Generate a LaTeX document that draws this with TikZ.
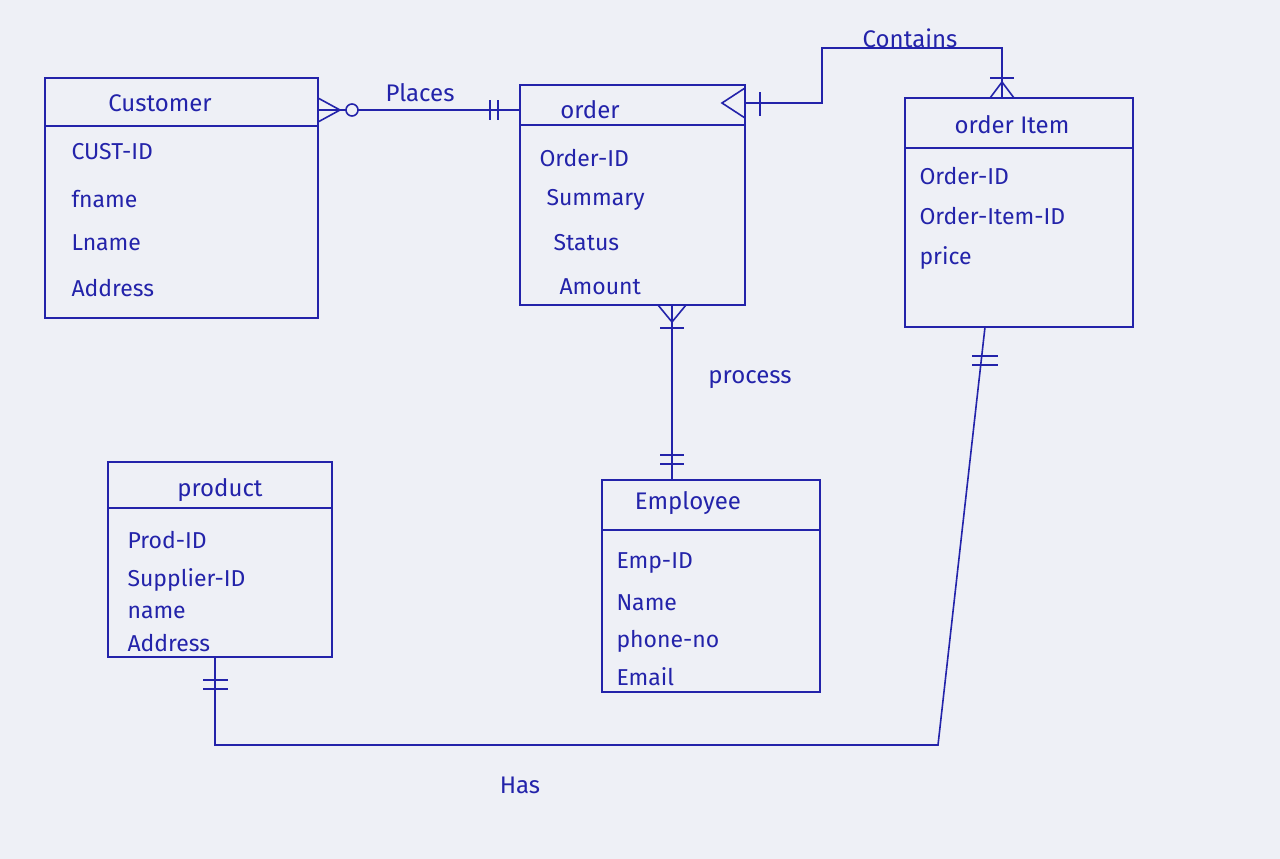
\documentclass[tikz,border=0pt]{standalone}
\usepackage{fontspec}
\setmainfont{Fira Sans}
\definecolor{ink}{RGB}{35,35,170}
\definecolor{paper}{RGB}{238,240,246}
\begin{document}
\begin{tikzpicture}[x=1pt,y=-1pt,
  ink line/.style={draw=ink,line width=1.6pt},
  ent/.style={ink line},
  lbl/.style={text=ink,font=\fontsize{24}{26}\selectfont},
  att/.style={text=ink,anchor=west,font=\fontsize{23}{25}\selectfont},
  ttl/.style={text=ink,font=\fontsize{24}{26}\selectfont}]
\fill[paper] (0,0) rectangle (1280,859);
\useasboundingbox (0,0) rectangle (1280,859);
% Customer
\draw[ent] (45,78) rectangle (318,318); \draw[ent] (45,126) -- (318,126);
\node[ttl] (cust) at (160,103) {Customer};
\node[att] at (68,152) {CUST-ID};
\node[att] at (68,199) {fname};
\node[att] at (68,243) {Lname};
\node[att] at (68,288) {Address};
\coordinate (custR) at (318,110);
% Order
\draw[ent] (520,85) rectangle (745,305); \draw[ent] (520,125) -- (745,125);
\node[ttl] (ord) at (590,110) {order};
\node[att] at (536,158) {Order-ID};
\node[att] at (543,200) {Summary};
\node[att] at (550,243) {Status};
\node[att] at (556,287) {Amount};
\coordinate (ordL) at (520,110);
\coordinate (ordR) at (745,103);
\coordinate (ordB) at (672,305);
% Order Item
\draw[ent] (905,98) rectangle (1133,327); \draw[ent] (905,148) -- (1133,148);
\node[ttl] (oi) at (1012,125) {order Item};
\node[att] at (916,176) {Order-ID};
\node[att] at (916,216) {Order-Item-ID};
\node[att] at (916,258) {price};
\coordinate (oiT) at (1002,98);
\coordinate (oiB) at (985,327);
% Product
\draw[ent] (108,462) rectangle (332,657); \draw[ent] (108,508) -- (332,508);
\node[ttl] (prod) at (220,490) {product};
\node[att] at (124,540) {Prod-ID};
\node[att] at (124,580) {Supplier-ID};
\node[att] at (124,612) {name};
\node[att] at (124,643) {Address};
\coordinate (prodB) at (215,657);
% Employee
\draw[ent] (602,480) rectangle (820,692); \draw[ent] (602,530) -- (820,530);
\node[ttl] (emp) at (688,503) {Employee};
\node[att] at (613,563) {Emp-ID};
\node[att] at (613,603) {Name};
\node[att] at (613,641) {phone-no};
\node[att] at (613,677) {Email};
\coordinate (empT) at (672,480);
% places
\draw[ink line] (custR) -- (ordL);
\draw[ink line] (318,98) -- (340,110) -- (318,122);
\draw[ink line,fill=paper] (352,110) circle (6);
\draw[ink line] (490,100) -- (490,120) (498,100) -- (498,120);
\node[lbl] (pl) at (420,93) {Places};
% contains
\draw[ink line] (ordR) -- (822,103) -- (822,48) -- (1002,48) -- (oiT);
\draw[ink line] (745,88) -- (722,103) -- (745,118);
\draw[ink line] (760,92) -- (760,116);
\draw[ink line] (990,78) -- (1014,78);
\draw[ink line] (990,98) -- (1002,82) -- (1014,98);
\node[lbl] (co) at (910,38) {Contains};
% process
\draw[ink line] (ordB) -- (empT);
\draw[ink line] (658,305) -- (672,322) -- (686,305);
\draw[ink line] (660,328) -- (684,328);
\draw[ink line] (660,455) -- (684,455) (660,464) -- (684,464);
\node[lbl] (pr) at (750,380) {process};
% has
\draw[ink line] (oiB) -- (938,745) -- (215,745) -- (prodB);
\draw[ink line] (972,356) -- (998,356) (972,365) -- (998,365);
\draw[ink line] (203,680) -- (228,680) (203,689) -- (228,689);
\node[lbl] (ha) at (520,785) {Has};
\end{tikzpicture}
\end{document}
